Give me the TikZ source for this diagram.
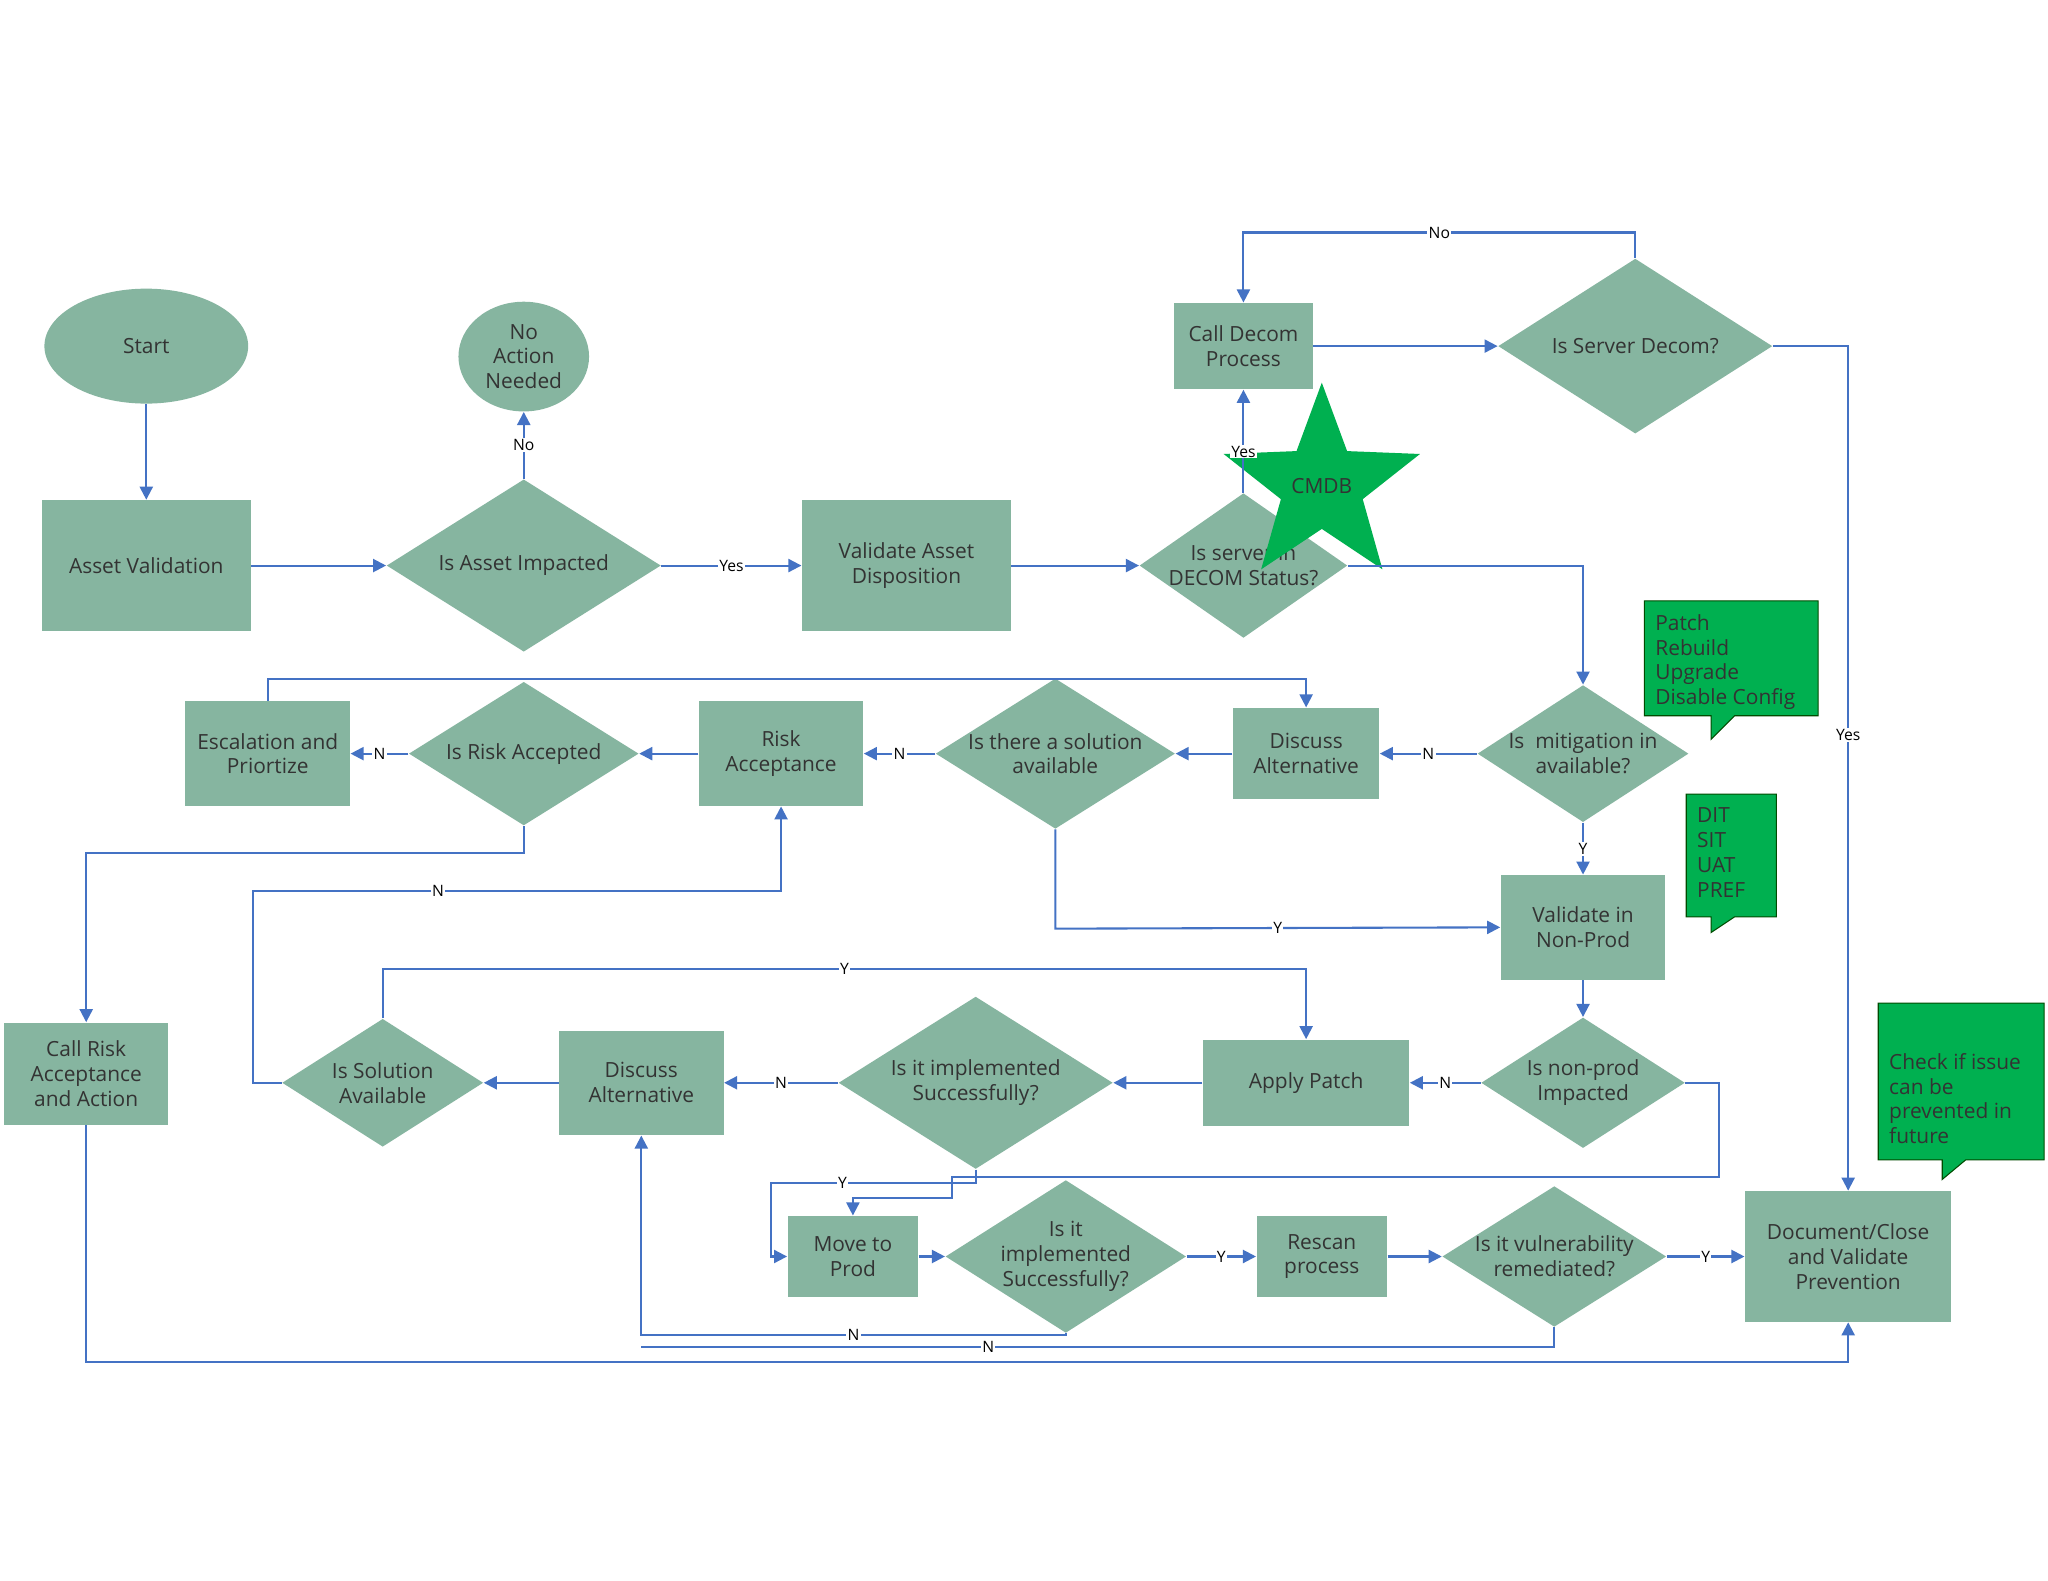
\documentclass[tikz,border=0pt]{standalone}
\usepackage{fontspec}
\setmainfont{Open Sans}
\usetikzlibrary{shapes.geometric,arrows.meta}
\definecolor{nf}{HTML}{86B5A0}
\definecolor{ln}{HTML}{4472C4}
\definecolor{cg}{HTML}{00B050}
\begin{document}
\begin{tikzpicture}[x=0.5pt,y=-0.5pt,
  base/.style={fill=nf,draw=none,align=center,font=\fontsize{8}{9.5}\selectfont,text=black!80,inner sep=1pt},
  box/.style={base,rectangle,minimum width=#1},
  ell/.style={base,ellipse},
  ar/.style={draw=ln,line width=0.8pt,-{Triangle[length=5pt,width=5pt]}},
  li/.style={draw=ln,line width=0.8pt},
  lb/.style={fill=white,font=\fontsize{6}{7}\selectfont,inner sep=0.5pt},
  cbg/.style={fill=cg,draw=black!70!green},
  co/.style={align=left,font=\fontsize{8}{9.5}\selectfont,text=black!80,inner sep=0pt,anchor=north west}]
\useasboundingbox[fill=white] (0,0) rectangle (1568,1210);
\def\bx#1#2#3#4#5#6{\node[box=#4*0.5pt,minimum height=#5*0.5pt] (#1) at (#2,#3) {#6};}
\def\dm#1#2#3#4#5#6{\pgfmathsetmacro\asp{#4/#5}\node[base,diamond,minimum width=#4*0.5pt,minimum height=#5*0.5pt,aspect=\asp,inner sep=0pt] (#1) at (#2,#3) {#6};}
\node[ell,minimum width=78pt,minimum height=44pt] (start) at (112,265) {Start};
\node[ell,minimum width=50pt,minimum height=42pt] (noact) at (401,273) {No\\Action\\Needed};
\bx{asset}{112}{433}{160}{100}{Asset Validation}
\dm{impact}{401}{433}{210}{132}{Is Asset Impacted}
\bx{valid}{694}{433}{160}{100}{Validate Asset\\Disposition}
\dm{decst}{952}{433}{158}{110}{Is server in\\DECOM Status?}
\bx{calld}{952}{265}{106}{66}{Call Decom\\Process}
\dm{srvd}{1252}{265}{210}{134}{Is Server Decom?}
\node[star,star points=5,star point ratio=2.4,fill=cg,minimum size=48pt,inner sep=0pt,font=\fontsize{8}{9}\selectfont,text=black!80] (cmdb) at (1012,372) {CMDB};
\dm{mitig}{1212}{577}{154}{100}{Is \ mitigation in\\available?}
\bx{disc1}{1000}{577}{112}{70}{Discuss\\Alternative}
\dm{sol}{808}{577}{156}{98}{Is there a solution\\available}
\bx{risk}{598}{577}{126}{80}{Risk\\Acceptance}
\dm{riskq}{401}{577}{176}{110}{Is Risk Accepted}
\bx{esc}{205}{577}{126}{80}{Escalation and\\Priortize}
\bx{callr}{66}{822}{126}{78}{Call Risk\\Acceptance\\and Action}
\bx{vnp}{1212}{710}{126}{80}{Validate in\\Non-Prod}
\dm{npi}{1212}{829}{156}{100}{Is non-prod\\Impacted}
\bx{patch}{1000}{829}{158}{66}{Apply Patch}
\dm{imp1}{747}{829}{210}{132}{Is it implemented\\Successfully?}
\bx{disc2}{491}{829}{126}{80}{Discuss\\Alternative}
\dm{solav}{293}{829}{154}{98}{Is Solution\\Available}
\bx{mtp}{653}{962}{100}{62}{Move to\\Prod}
\dm{imp2}{816}{962}{126}{80}{Is it\\implemented\\Successfully?}
\bx{rescan}{1012}{962}{100}{62}{Rescan\\process}
\dm{vuln}{1190}{962}{156}{98}{Is it vulnerability\\remediated?}
\bx{doc}{1415}{962}{158}{100}{Document/Close\\and Validate\\Prevention}
% callouts
\draw[cbg] (1259,460) -- (1392,460) -- (1392,548) -- (1328,548) -- (1310,566) -- (1310,548) -- (1259,548) -- cycle;
\node[co] (c1) at (1267,470) {Patch\\Rebuild\\Upgrade\\Disable Config};
\draw[cbg] (1291,608) -- (1360,608) -- (1360,702) -- (1328,702) -- (1310,714) -- (1310,702) -- (1291,702) -- cycle;
\node[co] (c2) at (1299,618) {DIT\\SIT\\UAT\\PREF};
\draw[cbg] (1438,768) -- (1565,768) -- (1565,888) -- (1505,888) -- (1487,903) -- (1487,888) -- (1438,888) -- cycle;
\node[co] (c3) at (1446,806) {Check if issue\\can be\\prevented in\\future};
% edges
\draw[ar] (start) -- (asset);
\draw[ar] (asset) -- (impact);
\draw[ar] (impact) -- node[lb]{No} (noact);
\draw[ar] (impact) -- node[lb]{Yes} (valid);
\draw[ar] (valid) -- (decst);
\draw[ar] (decst) -- node[lb,pos=0.4]{Yes} (calld);
\draw[ar] (calld) -- (srvd);
\draw[ar] (srvd.north) -- (1252,178) -- node[lb]{No} (952,178) -- (calld.north);
\draw[ar] (srvd.east) -- (1415,265) -- node[lb,pos=0.46]{Yes} (doc.north);
\draw[ar] (decst.east) -- (1212,433) -- (mitig.north);
\draw[ar] (mitig) -- node[lb]{N} (disc1);
\draw[ar] (disc1) -- (sol);
\draw[ar] (sol) -- node[lb]{N} (risk);
\draw[ar] (risk) -- (riskq);
\draw[ar] (riskq) -- node[lb]{N} (esc);
\draw[ar] (esc.north) -- (205,520) -- (1000,520) -- (disc1.north);
\draw[ar] (riskq.south) -- (401,653) -- (66,653) -- (callr.north);
\draw[ar] (sol.south) -- (808,711) -- node[lb]{Y} (vnp.west);
\draw[ar] (mitig) -- node[lb]{Y} (vnp);
\draw[ar] (vnp) -- (npi);
\draw[ar] (npi) -- node[lb]{N} (patch);
\draw[ar] (patch) -- (imp1);
\draw[ar] (imp1) -- node[lb]{N} (disc2);
\draw[ar] (disc2) -- (solav);
\draw[ar] (solav.north) -- (293,742) -- node[lb]{Y} (1000,742) -- (patch.north);
\draw[ar] (solav.west) -- (194,829) -- (194,682) -- node[lb,pos=0.35]{N} (598,682) -- (risk.south);
\draw[ar] (imp1.south) -- (747,906) -- node[lb,pos=0.65]{Y} (590,906) -- (590,962) -- (mtp.west);
\draw[ar] (npi.east) -- (1316,829) -- (1316,901) -- (729,901) -- (729,917) -- (653,917) -- (mtp.north);
\draw[ar] (mtp) -- (imp2);
\draw[ar] (imp2) -- node[lb]{Y} (rescan);
\draw[ar] (rescan) -- (vuln);
\draw[ar] (vuln) -- node[lb]{Y} (doc);
\draw[ar] (imp2.south) -- (816,1022) -- node[lb]{N} (491,1022) -- (disc2.south);
\draw[li] (vuln.south) -- (1190,1031) -- node[lb,pos=0.62]{N} (491,1031);
\draw[ar] (callr.south) -- (66,1043) -- (1415,1043) -- (doc.south);
\end{tikzpicture}
\end{document}
